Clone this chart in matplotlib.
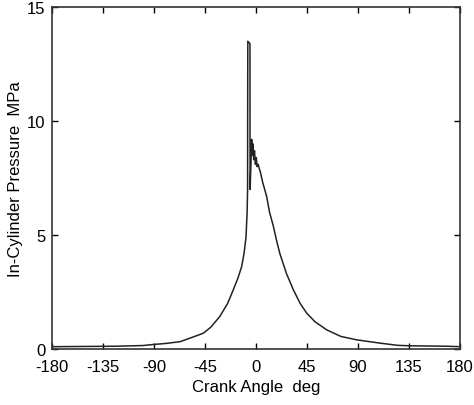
import matplotlib
matplotlib.use("Agg")
import matplotlib.pyplot as plt

plt.rcParams['font.family'] = ['Liberation Sans', 'DejaVu Sans']
plt.rcParams['axes.unicode_minus'] = False

# crank angle (deg) and in-cylinder pressure (MPa)
angle = [-180, -125, -100, -90, -80, -67, -58, -46.5, -40, -32, -25, -20,
         -16, -12.7, -10.5, -8.8, -7.8, -7.4, -7.3, -7.2, -5.3, -5.2, -4.5,
         -3.8, -3.2, -2.6, -2.0, -1.3, -0.5, 0.3, 1.0, 2.0, 3.0, 3.7, 6.0,
         9.4, 12, 15.3, 18, 21, 27, 33, 39, 44.7, 52, 62.4, 75, 89, 109,
         125, 135, 169, 180]
pressure = [0.1, 0.12, 0.15, 0.2, 0.24, 0.32, 0.48, 0.69, 0.95, 1.42, 2.0,
            2.6, 3.1, 3.6, 4.2, 4.9, 6.0, 7.0, 11.1, 13.5, 13.4, 7.0, 8.0,
            9.2, 8.5, 9.0, 8.3, 8.7, 8.1, 8.4, 8.0, 8.1, 7.9, 7.8, 7.3,
            6.7, 6.0, 5.4, 4.8, 4.2, 3.3, 2.6, 2.0, 1.58, 1.2, 0.84, 0.55,
            0.4, 0.26, 0.16, 0.14, 0.12, 0.1]

xticks = [-180, -135, -90, -45, 0, 45, 90, 135, 180]
yticks = [0, 5, 10, 15]

fig = plt.figure(figsize=(4.74, 4.06), dpi=100)
ax = fig.add_axes([0.110, 0.138, 0.860, 0.842])

ax.plot(angle, pressure, color='#222222', linewidth=1.1)

ax.set_xlim(-180, 180)
ax.set_ylim(0, 15)
ax.set_xticks(xticks)
ax.set_yticks(yticks)
ax.tick_params(direction='in', top=True, right=True, length=4,
               labelsize=12, width=1)
ax.tick_params(axis='x', pad=7)
ax.tick_params(axis='y', pad=5)
for s in ax.spines.values():
    s.set_linewidth(1.2)
    s.set_color('#333333')

ax.set_xlabel("Crank Angle  deg", fontsize=12, labelpad=4)
ax.set_ylabel("In-Cylinder Pressure  MPa", fontsize=12, labelpad=3)

fig.savefig("out.png", dpi=100)
